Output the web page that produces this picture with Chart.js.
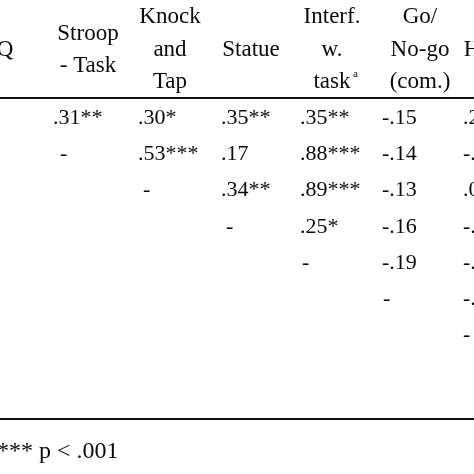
<!DOCTYPE html>
<html><head><meta charset="utf-8">
<script src="https://cdn.jsdelivr.net/npm/chart.js@4"></script>
<style>html,body{margin:0;padding:0;background:#fff;overflow:hidden}#w{width:474px;height:474px}</style>
</head><body><div id="w"><canvas id="c"></canvas></div>
<script>
const headers = [["Q"], ["Stroop", "- Task"], ["Knock", "and", "Tap"], ["Statue"], ["Interf.", "w.", "task"], ["Go/", "No-go", "(com.)"], ["H"]];
const row1 = [".31**", ".30*", ".35**", ".35**", "-.15", ".2"];
const row2 = ["-", ".53***", ".17", ".88***", "-.14", "-."];
const row3 = ["", "-", ".34**", ".89***", "-.13", ".0"];
const row4 = ["", "", "-", ".25*", "-.16", "-."];
const row5 = ["", "", "", "-", "-.19", "-."];
const row6 = ["", "", "", "", "-", "-."];
const row7 = ["", "", "", "", "", "-"];
const rows = [row1, row2, row3, row4, row5, row6, row7];
const footnote = "*** p < .001";

const colLeft = [53, 138, 221, 300, 382, 463];
const dashLeft = [60, 143, 226, 302, 383, 463];
const headCenter = [5, 88, 170, 251, 332, 420, 472];
const headRowsY = {1: [50], 2: [34, 66], 3: [17, 50, 82]};
const rowY = [118, 154, 190, 227, 263, 299, 335];

const tablePlugin = {
  id: 'table',
  afterDraw(chart) {
    const {ctx, scales: {x, y}} = chart;
    ctx.save();
    ctx.fillStyle = '#0a0a0a';
    const hf = '23px "Liberation Serif", serif';
    ctx.font = hf;
    ctx.textBaseline = 'middle';
    headers.forEach((h, i) => {
      const ys = headRowsY[h.length];
      h.forEach((t, j) => {
        ctx.textAlign = 'center';
        const px = x.getPixelForValue(headCenter[i]), py = y.getPixelForValue(ys[j]);
        ctx.fillText(t, px, py);
        if (t === 'task') {
          ctx.font = '11px "Liberation Serif", serif';
          ctx.textAlign = 'left';
          ctx.fillText('a', px + 21, py - 8);
          ctx.font = hf;
        }
      });
    });
    ctx.font = '22px "Liberation Serif", serif';
    ctx.textAlign = 'left';
    rows.forEach((r, i) => {
      r.forEach((t, j) => {
        if (!t) return;
        const lx = t === '-' ? dashLeft[j] : colLeft[j];
        ctx.fillText(t, x.getPixelForValue(lx), y.getPixelForValue(rowY[i]));
      });
    });
    ctx.font = '24px "Liberation Serif", serif';
    ctx.fillText(footnote, x.getPixelForValue(-3), y.getPixelForValue(452));
    ctx.strokeStyle = '#111';
    ctx.lineWidth = 2;
    [98, 419].forEach(v => {
      const py = y.getPixelForValue(v);
      ctx.beginPath(); ctx.moveTo(0, py); ctx.lineTo(474, py); ctx.stroke();
    });
    ctx.restore();
  }
};

new Chart(document.getElementById('c'), {
  type: 'scatter',
  data: {datasets: [{data: [], pointRadius: 0}]},
  options: {
    responsive: true, maintainAspectRatio: false, animation: false,
    layout: {padding: 0},
    plugins: {legend: {display: false}, tooltip: {enabled: false}},
    scales: {
      x: {type: 'linear', min: 0, max: 474, display: false},
      y: {type: 'linear', min: 0, max: 474, reverse: true, display: false}
    }
  },
  plugins: [tablePlugin]
});
</script></body></html>
